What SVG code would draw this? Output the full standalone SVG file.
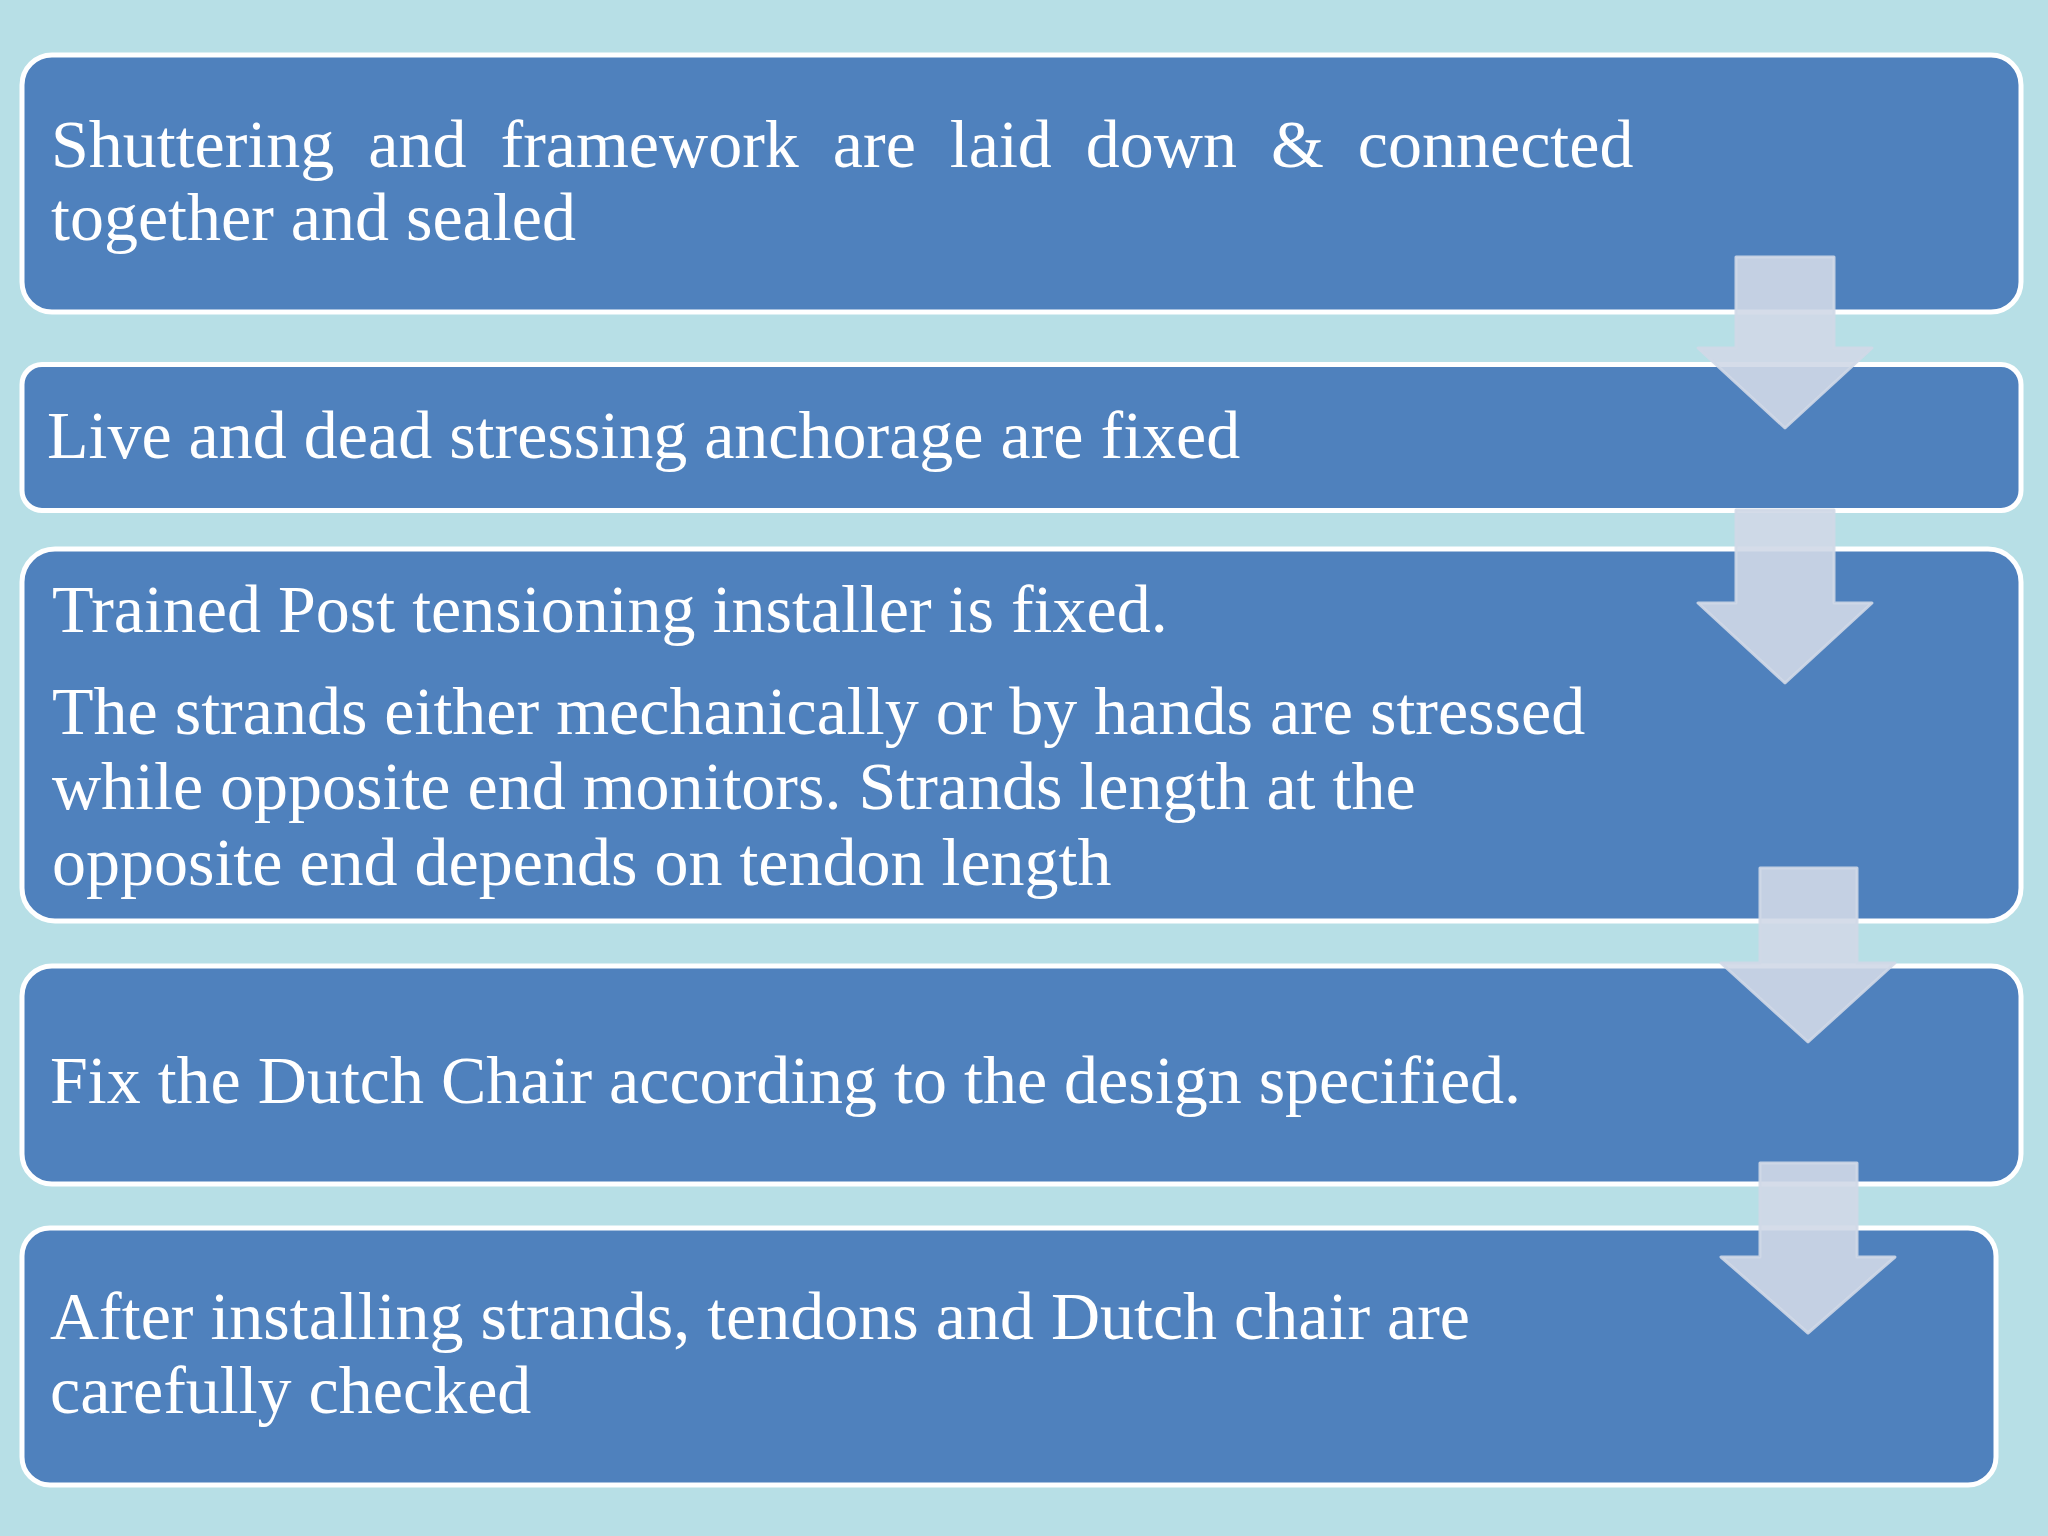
<svg xmlns="http://www.w3.org/2000/svg" width="2048" height="1536" viewBox="0 0 2048 1536">
<style>
.box{fill:#4f81bd;stroke:#ffffff;stroke-width:5}
.t{font-family:"Liberation Serif","Times New Roman",serif;font-size:68px;fill:#ffffff}
.arr{fill:#d0d8e7;fill-opacity:0.9;stroke:#d0d8e7;stroke-opacity:0.9;stroke-width:3;stroke-linejoin:round}
</style>
<rect width="2048" height="1536" fill="#b7dfe6"/>
<g id="step1">
<rect class="box" x="22" y="55" width="1999" height="257" rx="30"/>
<text class="t" x="51" y="167" word-spacing="17">Shuttering and framework are laid down &amp; connected</text>
<text class="t" x="51" y="240">together and sealed</text>
</g>
<g id="step2">
<rect class="box" x="22" y="364.5" width="1999" height="146" rx="20"/>
<text class="t" x="47" y="458">Live and dead stressing anchorage are fixed</text>
</g>
<g id="step3">
<rect class="box" x="22" y="549" width="1999" height="372" rx="33"/>
<text class="t" x="52" y="632">Trained Post tensioning installer is fixed.</text>
<text class="t" x="52" y="734">The strands either mechanically or by hands are stressed</text>
<text class="t" x="52" y="809">while opposite end monitors. Strands length at the</text>
<text class="t" x="52" y="885">opposite end depends on tendon length</text>
</g>
<g id="step4">
<rect class="box" x="22" y="966" width="1999" height="218" rx="30"/>
<text class="t" x="50" y="1103">Fix the Dutch Chair according to the design specified.</text>
</g>
<g id="step5">
<rect class="box" x="22" y="1228" width="1974" height="257" rx="28"/>
<text class="t" x="50" y="1339">After installing strands, tendons and Dutch chair are</text>
<text class="t" x="50" y="1413">carefully checked</text>
</g>
<g id="connectors">
<path class="arr" d="M1736,257 H1834 V348 H1872 L1785,428 L1698,348 H1736 Z"/>
<path class="arr" d="M1736,510 H1834 V603 H1872 L1785,683 L1698,603 H1736 Z"/>
<path class="arr" d="M1760,868 H1857 V963 H1895 L1808,1042 L1721,963 H1760 Z"/>
<path class="arr" d="M1760,1163 H1857 V1257 H1895 L1808,1333 L1721,1257 H1760 Z"/>
</g>
</svg>
